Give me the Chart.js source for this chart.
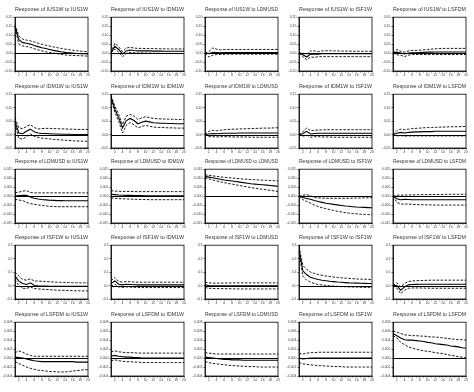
<!DOCTYPE html>
<html><head><meta charset="utf-8">
<script src="https://cdn.jsdelivr.net/npm/chart.js@4.4.1/dist/chart.umd.min.js"></script>
<style>
html,body{margin:0;padding:0;background:#fff;}
body{width:474px;height:392px;position:relative;overflow:hidden;}
canvas{position:absolute;}
</style></head><body>
<script>
const VARS = ['IUS1W','IDM1W','LDMUSD','ISF1W','LSFDM'];
const PERIODS = [1,2,3,4,5,6,7,8,9,10,11,12,13,14,15,16,17,18,19,20];

// y-axis ticks per responding variable
const TICKS_IUS1W = [-0.10,-0.05,0.00,0.05,0.10,0.15,0.20];
const TICKS_IDM1W = [-0.05,0.00,0.05,0.10,0.15];
const TICKS_LDMUSD = [-0.015,-0.010,-0.005,0.000,0.005,0.010,0.015];
const TICKS_ISF1W = [-0.1,0.0,0.1,0.2,0.3];
const TICKS_LSFDM = [-0.004,-0.002,0.000,0.002,0.004,0.006,0.008];

// Response of IUS1W
const M_IUS1W_IUS1W = [0.150,0.075,0.058,0.055,0.050,0.042,0.036,0.030,0.025,0.020,0.015,0.011,0.007,0.004,0.002,0.000,-0.002,-0.003,-0.004,-0.005];
const U_IUS1W_IUS1W = [0.160,0.095,0.078,0.072,0.068,0.062,0.055,0.049,0.044,0.039,0.034,0.030,0.026,0.022,0.019,0.016,0.013,0.011,0.009,0.007];
const L_IUS1W_IUS1W = [0.140,0.050,0.040,0.036,0.032,0.024,0.018,0.012,0.007,0.003,0.000,-0.004,-0.007,-0.010,-0.012,-0.013,-0.014,-0.015,-0.016,-0.017];
const M_IUS1W_IDM1W = [0.000,0.038,0.020,-0.005,0.012,0.017,0.014,0.012,0.013,0.012,0.012,0.011,0.011,0.011,0.010,0.010,0.010,0.010,0.010,0.010];
const U_IUS1W_IDM1W = [0.000,0.055,0.035,0.008,0.028,0.032,0.028,0.026,0.026,0.025,0.025,0.025,0.024,0.024,0.024,0.023,0.023,0.023,0.023,0.023];
const L_IUS1W_IDM1W = [0.000,0.022,0.006,-0.020,-0.002,0.004,0.002,0.000,0.001,0.000,0.000,-0.001,-0.001,-0.002,-0.002,-0.002,-0.002,-0.003,-0.003,-0.003];
const M_IUS1W_LDMUSD = [0.000,-0.004,0.004,0.003,0.002,0.003,0.003,0.003,0.003,0.003,0.003,0.003,0.003,0.003,0.003,0.003,0.003,0.003,0.003,0.003];
const U_IUS1W_LDMUSD = [0.000,0.008,0.028,0.022,0.018,0.020,0.020,0.020,0.020,0.020,0.020,0.020,0.020,0.020,0.020,0.020,0.020,0.020,0.020,0.020];
const L_IUS1W_LDMUSD = [0.000,-0.022,-0.012,-0.008,-0.008,-0.007,-0.006,-0.006,-0.006,-0.006,-0.006,-0.006,-0.006,-0.006,-0.006,-0.006,-0.006,-0.006,-0.006,-0.006];
const M_IUS1W_ISF1W = [0.000,-0.010,-0.022,-0.005,-0.006,-0.006,-0.004,-0.004,-0.004,-0.004,-0.004,-0.004,-0.003,-0.003,-0.003,-0.003,-0.003,-0.003,-0.003,-0.003];
const U_IUS1W_ISF1W = [0.000,0.000,-0.008,0.012,0.012,0.008,0.012,0.013,0.013,0.012,0.012,0.011,0.011,0.011,0.010,0.010,0.010,0.010,0.010,0.010];
const L_IUS1W_ISF1W = [0.000,-0.020,-0.038,-0.022,-0.024,-0.020,-0.020,-0.020,-0.020,-0.020,-0.020,-0.020,-0.020,-0.020,-0.020,-0.020,-0.020,-0.020,-0.020,-0.020];
const M_IUS1W_LSFDM = [0.000,0.005,0.000,-0.005,0.000,0.002,0.002,0.003,0.004,0.005,0.005,0.006,0.006,0.006,0.006,0.006,0.006,0.006,0.006,0.006];
const U_IUS1W_LSFDM = [0.000,0.020,0.010,0.005,0.012,0.015,0.015,0.016,0.018,0.020,0.022,0.024,0.025,0.026,0.026,0.026,0.026,0.026,0.026,0.026];
const L_IUS1W_LSFDM = [0.000,-0.010,-0.012,-0.020,-0.012,-0.008,-0.008,-0.008,-0.008,-0.008,-0.008,-0.008,-0.008,-0.008,-0.008,-0.008,-0.008,-0.008,-0.008,-0.008];

// Response of IDM1W
const M_IDM1W_IUS1W = [0.050,0.006,0.003,0.012,0.020,0.010,0.006,0.004,0.004,0.003,0.002,0.002,0.001,0.001,0.001,0.000,0.000,0.000,0.000,0.000];
const U_IDM1W_IUS1W = [0.062,0.025,0.022,0.030,0.037,0.026,0.021,0.022,0.023,0.023,0.022,0.022,0.021,0.021,0.020,0.020,0.019,0.019,0.019,0.019];
const L_IDM1W_IUS1W = [0.040,-0.015,-0.016,-0.008,0.003,-0.007,-0.010,-0.013,-0.015,-0.016,-0.018,-0.019,-0.020,-0.021,-0.022,-0.023,-0.024,-0.024,-0.025,-0.025];
const M_IDM1W_IDM1W = [0.140,0.094,0.063,0.025,0.052,0.060,0.052,0.040,0.046,0.050,0.047,0.044,0.043,0.042,0.042,0.041,0.041,0.040,0.040,0.040];
const U_IDM1W_IDM1W = [0.145,0.106,0.075,0.037,0.069,0.075,0.069,0.056,0.062,0.066,0.063,0.060,0.059,0.058,0.058,0.057,0.057,0.056,0.056,0.056];
const L_IDM1W_IDM1W = [0.135,0.082,0.050,0.006,0.035,0.045,0.036,0.025,0.030,0.034,0.031,0.028,0.027,0.026,0.026,0.025,0.025,0.024,0.024,0.024];
const M_IDM1W_LDMUSD = [0.000,0.002,0.004,0.003,0.004,0.005,0.005,0.005,0.005,0.006,0.006,0.006,0.006,0.006,0.006,0.006,0.006,0.006,0.006,0.006];
const U_IDM1W_LDMUSD = [0.000,0.012,0.015,0.014,0.016,0.018,0.019,0.020,0.020,0.021,0.021,0.022,0.022,0.023,0.023,0.024,0.024,0.024,0.025,0.025];
const L_IDM1W_LDMUSD = [0.000,-0.008,-0.008,-0.009,-0.008,-0.008,-0.008,-0.009,-0.009,-0.009,-0.009,-0.009,-0.010,-0.010,-0.010,-0.010,-0.010,-0.010,-0.010,-0.010];
const M_IDM1W_ISF1W = [0.000,0.003,0.012,0.002,0.004,0.005,0.005,0.005,0.005,0.005,0.005,0.005,0.005,0.005,0.005,0.005,0.005,0.005,0.005,0.005];
const U_IDM1W_ISF1W = [0.000,0.010,0.025,0.014,0.016,0.017,0.017,0.018,0.018,0.018,0.018,0.018,0.018,0.018,0.018,0.018,0.018,0.018,0.018,0.018];
const L_IDM1W_ISF1W = [0.000,-0.006,-0.002,-0.010,-0.008,-0.008,-0.009,-0.009,-0.009,-0.010,-0.010,-0.010,-0.010,-0.010,-0.010,-0.010,-0.010,-0.010,-0.010,-0.010];
const M_IDM1W_LSFDM = [0.000,0.005,0.008,0.006,0.008,0.009,0.010,0.010,0.011,0.011,0.011,0.012,0.012,0.012,0.012,0.012,0.012,0.012,0.012,0.012];
const U_IDM1W_LSFDM = [0.000,0.015,0.020,0.018,0.020,0.022,0.023,0.024,0.025,0.026,0.026,0.027,0.027,0.028,0.028,0.029,0.029,0.029,0.030,0.030];
const L_IDM1W_LSFDM = [0.000,-0.005,-0.004,-0.006,-0.005,-0.005,-0.005,-0.005,-0.005,-0.005,-0.005,-0.005,-0.005,-0.005,-0.005,-0.005,-0.005,-0.005,-0.005,-0.005];

// Response of LDMUSD
const M_LDMUSD_IUS1W = [0.0000,0.0003,0.0005,0.0004,-0.0005,-0.0012,-0.0016,-0.0019,-0.0021,-0.0023,-0.0024,-0.0025,-0.0025,-0.0026,-0.0026,-0.0026,-0.0026,-0.0026,-0.0026,-0.0026];
const U_LDMUSD_IUS1W = [0.0018,0.0022,0.0028,0.0030,0.0020,0.0018,0.0018,0.0018,0.0018,0.0018,0.0018,0.0018,0.0018,0.0018,0.0018,0.0018,0.0018,0.0018,0.0018,0.0018];
const L_LDMUSD_IUS1W = [-0.0018,-0.0022,-0.0025,-0.0035,-0.0042,-0.0046,-0.0049,-0.0052,-0.0055,-0.0057,-0.0058,-0.0059,-0.0059,-0.0059,-0.0059,-0.0059,-0.0059,-0.0059,-0.0059,-0.0059];
const M_LDMUSD_IDM1W = [0.0010,0.0008,0.0006,0.0005,0.0004,0.0004,0.0003,0.0003,0.0003,0.0002,0.0002,0.0002,0.0002,0.0002,0.0002,0.0002,0.0002,0.0002,0.0002,0.0002];
const U_LDMUSD_IDM1W = [0.0030,0.0028,0.0027,0.0026,0.0026,0.0026,0.0025,0.0025,0.0025,0.0025,0.0025,0.0025,0.0025,0.0025,0.0025,0.0025,0.0025,0.0025,0.0025,0.0025];
const L_LDMUSD_IDM1W = [-0.0010,-0.0012,-0.0014,-0.0015,-0.0016,-0.0017,-0.0018,-0.0018,-0.0019,-0.0019,-0.0020,-0.0020,-0.0020,-0.0020,-0.0020,-0.0020,-0.0020,-0.0020,-0.0020,-0.0020];
const M_LDMUSD_LDMUSD = [0.0110,0.0106,0.0102,0.0098,0.0094,0.0090,0.0087,0.0084,0.0081,0.0078,0.0075,0.0072,0.0069,0.0067,0.0065,0.0063,0.0061,0.0059,0.0057,0.0055];
const U_LDMUSD_LDMUSD = [0.0118,0.0116,0.0113,0.0110,0.0107,0.0105,0.0103,0.0101,0.0099,0.0097,0.0095,0.0094,0.0092,0.0091,0.0090,0.0089,0.0088,0.0087,0.0086,0.0085];
const L_LDMUSD_LDMUSD = [0.0102,0.0096,0.0090,0.0085,0.0080,0.0075,0.0071,0.0067,0.0063,0.0059,0.0055,0.0051,0.0047,0.0044,0.0041,0.0038,0.0035,0.0032,0.0029,0.0026];
const M_LDMUSD_ISF1W = [0.0000,-0.0008,-0.0013,-0.0018,-0.0025,-0.0030,-0.0035,-0.0040,-0.0043,-0.0046,-0.0049,-0.0052,-0.0055,-0.0057,-0.0059,-0.0061,-0.0062,-0.0063,-0.0064,-0.0065];
const U_LDMUSD_ISF1W = [0.0000,0.0005,0.0008,0.0002,-0.0008,-0.0010,-0.0011,-0.0012,-0.0012,-0.0012,-0.0012,-0.0012,-0.0012,-0.0012,-0.0011,-0.0011,-0.0010,-0.0010,-0.0009,-0.0009];
const L_LDMUSD_ISF1W = [0.0000,-0.0020,-0.0030,-0.0040,-0.0050,-0.0058,-0.0065,-0.0070,-0.0075,-0.0080,-0.0085,-0.0088,-0.0092,-0.0095,-0.0097,-0.0099,-0.0101,-0.0102,-0.0103,-0.0104];
const M_LDMUSD_LSFDM = [0.0000,-0.0015,-0.0020,-0.0018,-0.0019,-0.0020,-0.0020,-0.0020,-0.0020,-0.0020,-0.0020,-0.0020,-0.0020,-0.0020,-0.0020,-0.0020,-0.0020,-0.0020,-0.0020,-0.0020];
const U_LDMUSD_LSFDM = [0.0000,0.0005,0.0005,0.0006,0.0006,0.0007,0.0007,0.0008,0.0008,0.0008,0.0009,0.0009,0.0009,0.0009,0.0010,0.0010,0.0010,0.0010,0.0010,0.0010];
const L_LDMUSD_LSFDM = [0.0000,-0.0035,-0.0045,-0.0044,-0.0045,-0.0046,-0.0047,-0.0048,-0.0048,-0.0049,-0.0049,-0.0050,-0.0050,-0.0050,-0.0050,-0.0050,-0.0050,-0.0050,-0.0050,-0.0050];

// Response of ISF1W
const M_ISF1W_IUS1W = [0.070,0.033,0.015,0.008,0.020,0.000,-0.002,-0.003,-0.004,-0.005,-0.005,-0.005,-0.005,-0.005,-0.005,-0.005,-0.005,-0.005,-0.005,-0.005];
const U_ISF1W_IUS1W = [0.100,0.070,0.045,0.040,0.050,0.035,0.033,0.032,0.030,0.028,0.026,0.025,0.024,0.023,0.022,0.021,0.021,0.020,0.020,0.020];
const L_ISF1W_IUS1W = [0.045,0.000,-0.020,-0.022,-0.010,-0.022,-0.025,-0.027,-0.029,-0.031,-0.033,-0.034,-0.035,-0.036,-0.037,-0.038,-0.039,-0.039,-0.040,-0.040];
const M_ISF1W_IDM1W = [0.015,0.035,0.010,0.005,0.010,0.008,0.006,0.005,0.005,0.005,0.005,0.005,0.005,0.005,0.005,0.005,0.005,0.005,0.005,0.005];
const U_ISF1W_IDM1W = [0.035,0.060,0.030,0.025,0.030,0.028,0.026,0.025,0.025,0.025,0.025,0.025,0.025,0.025,0.025,0.025,0.025,0.025,0.025,0.025];
const L_ISF1W_IDM1W = [-0.005,0.010,-0.010,-0.015,-0.010,-0.012,-0.013,-0.014,-0.015,-0.015,-0.015,-0.015,-0.015,-0.015,-0.015,-0.015,-0.015,-0.015,-0.015,-0.015];
const M_ISF1W_LDMUSD = [0.005,0.000,-0.002,-0.002,-0.002,-0.002,-0.002,-0.002,-0.002,-0.002,-0.002,-0.002,-0.002,-0.002,-0.002,-0.002,-0.002,-0.002,-0.002,-0.002];
const U_ISF1W_LDMUSD = [0.025,0.020,0.018,0.018,0.018,0.019,0.019,0.019,0.020,0.020,0.020,0.020,0.020,0.020,0.020,0.020,0.020,0.020,0.020,0.020];
const L_ISF1W_LDMUSD = [-0.015,-0.020,-0.022,-0.022,-0.023,-0.023,-0.024,-0.024,-0.025,-0.025,-0.025,-0.025,-0.025,-0.025,-0.025,-0.025,-0.025,-0.025,-0.025,-0.025];
const M_ISF1W_ISF1W = [0.270,0.110,0.080,0.062,0.052,0.045,0.040,0.036,0.032,0.029,0.026,0.024,0.022,0.020,0.019,0.018,0.017,0.016,0.015,0.015];
const U_ISF1W_ISF1W = [0.290,0.150,0.120,0.100,0.090,0.082,0.076,0.071,0.067,0.063,0.060,0.057,0.055,0.053,0.051,0.049,0.048,0.047,0.046,0.045];
const L_ISF1W_ISF1W = [0.250,0.070,0.040,0.025,0.015,0.008,0.004,0.001,-0.002,-0.004,-0.006,-0.008,-0.009,-0.010,-0.011,-0.012,-0.013,-0.014,-0.015,-0.015];
const M_ISF1W_LSFDM = [0.000,0.000,-0.035,-0.010,0.005,0.008,0.009,0.010,0.010,0.010,0.010,0.010,0.010,0.010,0.010,0.010,0.010,0.010,0.010,0.010];
const U_ISF1W_LSFDM = [0.000,0.020,-0.010,0.015,0.030,0.034,0.036,0.037,0.038,0.039,0.040,0.040,0.040,0.040,0.040,0.040,0.040,0.040,0.040,0.040];
const L_ISF1W_LSFDM = [0.000,-0.020,-0.060,-0.035,-0.020,-0.018,-0.018,-0.018,-0.019,-0.019,-0.020,-0.020,-0.020,-0.020,-0.020,-0.020,-0.020,-0.020,-0.020,-0.020];

// Response of LSFDM
const M_LSFDM_IUS1W = [0.0002,0.0001,0.0000,-0.0002,-0.0004,-0.0006,-0.0007,-0.0008,-0.0008,-0.0008,-0.0008,-0.0008,-0.0008,-0.0008,-0.0008,-0.0008,-0.0009,-0.0009,-0.0009,-0.0009];
const U_LSFDM_IUS1W = [0.0012,0.0016,0.0013,0.0009,0.0006,0.0004,0.0004,0.0004,0.0004,0.0004,0.0004,0.0004,0.0004,0.0004,0.0004,0.0004,0.0004,0.0004,0.0004,0.0004];
const L_LSFDM_IUS1W = [-0.0008,-0.0012,-0.0016,-0.0020,-0.0023,-0.0025,-0.0027,-0.0028,-0.0029,-0.0030,-0.0030,-0.0031,-0.0031,-0.0031,-0.0030,-0.0029,-0.0028,-0.0027,-0.0026,-0.0026];
const M_LSFDM_IDM1W = [0.0004,0.0006,0.0004,0.0003,0.0002,0.0002,0.0001,0.0001,0.0000,0.0000,0.0000,0.0000,0.0000,0.0000,0.0000,0.0000,0.0000,0.0000,0.0000,0.0000];
const U_LSFDM_IDM1W = [0.0014,0.0016,0.0014,0.0013,0.0012,0.0012,0.0012,0.0011,0.0011,0.0011,0.0011,0.0011,0.0011,0.0011,0.0011,0.0011,0.0011,0.0011,0.0011,0.0011];
const L_LSFDM_IDM1W = [-0.0006,-0.0004,-0.0006,-0.0007,-0.0008,-0.0008,-0.0009,-0.0009,-0.0010,-0.0010,-0.0010,-0.0010,-0.0010,-0.0010,-0.0010,-0.0010,-0.0010,-0.0010,-0.0010,-0.0010];
const M_LSFDM_LDMUSD = [0.0002,0.0001,0.0000,-0.0001,-0.0002,-0.0003,-0.0003,-0.0004,-0.0004,-0.0004,-0.0005,-0.0005,-0.0005,-0.0005,-0.0005,-0.0005,-0.0005,-0.0005,-0.0005,-0.0005];
const U_LSFDM_LDMUSD = [0.0012,0.0011,0.0010,0.0009,0.0009,0.0009,0.0009,0.0009,0.0009,0.0009,0.0009,0.0009,0.0009,0.0009,0.0009,0.0009,0.0009,0.0009,0.0009,0.0009];
const L_LSFDM_LDMUSD = [-0.0008,-0.0010,-0.0012,-0.0013,-0.0014,-0.0015,-0.0016,-0.0017,-0.0017,-0.0018,-0.0018,-0.0019,-0.0019,-0.0019,-0.0020,-0.0020,-0.0020,-0.0020,-0.0020,-0.0020];
const M_LSFDM_ISF1W = [0.0000,-0.0002,-0.0001,0.0000,0.0000,0.0000,0.0000,0.0000,0.0000,0.0000,0.0000,0.0000,0.0000,0.0000,0.0000,0.0000,0.0000,0.0000,0.0000,0.0000];
const U_LSFDM_ISF1W = [0.0010,0.0009,0.0011,0.0012,0.0012,0.0013,0.0013,0.0013,0.0013,0.0013,0.0013,0.0013,0.0013,0.0013,0.0013,0.0013,0.0013,0.0013,0.0013,0.0013];
const L_LSFDM_ISF1W = [-0.0010,-0.0013,-0.0014,-0.0015,-0.0016,-0.0017,-0.0017,-0.0018,-0.0018,-0.0019,-0.0019,-0.0019,-0.0020,-0.0020,-0.0020,-0.0020,-0.0020,-0.0020,-0.0020,-0.0020];
const M_LSFDM_LSFDM = [0.0055,0.0050,0.0045,0.0041,0.0040,0.0040,0.0039,0.0038,0.0037,0.0035,0.0034,0.0032,0.0031,0.0030,0.0029,0.0027,0.0026,0.0025,0.0023,0.0022];
const U_LSFDM_LSFDM = [0.0060,0.0058,0.0055,0.0052,0.0051,0.0050,0.0050,0.0049,0.0049,0.0048,0.0047,0.0047,0.0046,0.0045,0.0044,0.0043,0.0042,0.0041,0.0041,0.0040];
const L_LSFDM_LSFDM = [0.0050,0.0045,0.0035,0.0030,0.0025,0.0022,0.0020,0.0018,0.0016,0.0015,0.0014,0.0012,0.0011,0.0010,0.0008,0.0006,0.0005,0.0003,0.0002,0.0000];

// ---- tables built from the arrays above ----
const TICKS = {IUS1W:TICKS_IUS1W, IDM1W:TICKS_IDM1W, LDMUSD:TICKS_LDMUSD, ISF1W:TICKS_ISF1W, LSFDM:TICKS_LSFDM};
const DEC = {IUS1W:2, IDM1W:2, LDMUSD:3, ISF1W:1, LSFDM:3};
const SERIES = {
 IUS1W_IUS1W:[M_IUS1W_IUS1W,U_IUS1W_IUS1W,L_IUS1W_IUS1W], IUS1W_IDM1W:[M_IUS1W_IDM1W,U_IUS1W_IDM1W,L_IUS1W_IDM1W],
 IUS1W_LDMUSD:[M_IUS1W_LDMUSD,U_IUS1W_LDMUSD,L_IUS1W_LDMUSD], IUS1W_ISF1W:[M_IUS1W_ISF1W,U_IUS1W_ISF1W,L_IUS1W_ISF1W],
 IUS1W_LSFDM:[M_IUS1W_LSFDM,U_IUS1W_LSFDM,L_IUS1W_LSFDM],
 IDM1W_IUS1W:[M_IDM1W_IUS1W,U_IDM1W_IUS1W,L_IDM1W_IUS1W], IDM1W_IDM1W:[M_IDM1W_IDM1W,U_IDM1W_IDM1W,L_IDM1W_IDM1W],
 IDM1W_LDMUSD:[M_IDM1W_LDMUSD,U_IDM1W_LDMUSD,L_IDM1W_LDMUSD], IDM1W_ISF1W:[M_IDM1W_ISF1W,U_IDM1W_ISF1W,L_IDM1W_ISF1W],
 IDM1W_LSFDM:[M_IDM1W_LSFDM,U_IDM1W_LSFDM,L_IDM1W_LSFDM],
 LDMUSD_IUS1W:[M_LDMUSD_IUS1W,U_LDMUSD_IUS1W,L_LDMUSD_IUS1W], LDMUSD_IDM1W:[M_LDMUSD_IDM1W,U_LDMUSD_IDM1W,L_LDMUSD_IDM1W],
 LDMUSD_LDMUSD:[M_LDMUSD_LDMUSD,U_LDMUSD_LDMUSD,L_LDMUSD_LDMUSD], LDMUSD_ISF1W:[M_LDMUSD_ISF1W,U_LDMUSD_ISF1W,L_LDMUSD_ISF1W],
 LDMUSD_LSFDM:[M_LDMUSD_LSFDM,U_LDMUSD_LSFDM,L_LDMUSD_LSFDM],
 ISF1W_IUS1W:[M_ISF1W_IUS1W,U_ISF1W_IUS1W,L_ISF1W_IUS1W], ISF1W_IDM1W:[M_ISF1W_IDM1W,U_ISF1W_IDM1W,L_ISF1W_IDM1W],
 ISF1W_LDMUSD:[M_ISF1W_LDMUSD,U_ISF1W_LDMUSD,L_ISF1W_LDMUSD], ISF1W_ISF1W:[M_ISF1W_ISF1W,U_ISF1W_ISF1W,L_ISF1W_ISF1W],
 ISF1W_LSFDM:[M_ISF1W_LSFDM,U_ISF1W_LSFDM,L_ISF1W_LSFDM],
 LSFDM_IUS1W:[M_LSFDM_IUS1W,U_LSFDM_IUS1W,L_LSFDM_IUS1W], LSFDM_IDM1W:[M_LSFDM_IDM1W,U_LSFDM_IDM1W,L_LSFDM_IDM1W],
 LSFDM_LDMUSD:[M_LSFDM_LDMUSD,U_LSFDM_LDMUSD,L_LSFDM_LDMUSD], LSFDM_ISF1W:[M_LSFDM_ISF1W,U_LSFDM_ISF1W,L_LSFDM_ISF1W],
 LSFDM_LSFDM:[M_LSFDM_LSFDM,U_LSFDM_LSFDM,L_LSFDM_LSFDM]
};

const FONT = "'Liberation Sans', Arial, sans-serif";
const PLOT_LEFT = [15,111,205,299,393];
const PLOT_TOP = [16.5,94,169,245,322];
const PLOT_W = 73, PLOT_H = 54;
const YAXIS_W = 15, TITLE_H = 14, XAXIS_H = 7, RPAD = 3;

const boxPlugin = {
  id:'box',
  beforeDatasetsDraw(chart){
    const {ctx, chartArea:a, scales:{y}} = chart;
    ctx.save();
    ctx.strokeStyle = '#000'; ctx.lineWidth = 1;
    const zy = Math.round(y.getPixelForValue(0)) + 0.5;
    ctx.beginPath(); ctx.moveTo(a.left, zy); ctx.lineTo(a.right, zy); ctx.stroke();
    ctx.restore();
  },
  afterDraw(chart){
    const {ctx, chartArea:a} = chart;
    ctx.save();
    ctx.strokeStyle = '#000'; ctx.lineWidth = 0.8;
    ctx.strokeRect(a.left, a.top, a.right - a.left, a.bottom - a.top);
    ctx.restore();
  }
};

for (let r = 0; r < 5; r++) {
  for (let c = 0; c < 5; c++) {
    const resp = VARS[r], imp = VARS[c];
    const [mid, up, lo] = SERIES[resp + '_' + imp];
    const cv = document.createElement('canvas');
    const W = YAXIS_W + PLOT_W + RPAD, H = TITLE_H + PLOT_H + XAXIS_H;
    cv.width = W; cv.height = H;
    cv.style.left = (PLOT_LEFT[c] - YAXIS_W) + 'px';
    cv.style.top = (PLOT_TOP[r] - TITLE_H) + 'px';
    document.body.appendChild(cv);
    const ticks = TICKS[resp];
    const dec = DEC[resp];
    new Chart(cv, {
      type: 'line',
      data: {
        labels: PERIODS,
        datasets: [
          {label:'Response', data: mid, borderColor:'#000', borderWidth:1.1, pointRadius:0, tension:0},
          {label:'+2 S.E.', data: up, borderColor:'#000', borderWidth:0.9, borderDash:[2.5,1.5], pointRadius:0, tension:0},
          {label:'-2 S.E.', data: lo, borderColor:'#000', borderWidth:0.9, borderDash:[2.5,1.5], pointRadius:0, tension:0}
        ]
      },
      options: {
        responsive:false, animation:false, devicePixelRatio:1,
        layout:{padding:{left:0,right:RPAD,top:0,bottom:0}},
        plugins:{
          legend:{display:false}, tooltip:{enabled:false},
          title:{display:true, fullSize:false, text:'Response of ' + resp + ' to ' + imp,
                 color:'#333', font:{family:FONT, size:6, weight:'normal'}, padding:{top:3, bottom:4}}
        },
        scales:{
          x:{
            type:'category', offset:false,
            grid:{display:true, drawOnChartArea:false, drawTicks:true, tickLength:1.5, color:'#000', lineWidth:0.6},
            border:{display:true, color:'#000', width:0.8},
            ticks:{autoSkip:false, maxRotation:0, padding:0.5, color:'#444', font:{family:FONT, size:3.5},
                   callback:(v,i)=> (PERIODS[i] % 2 === 0 ? String(PERIODS[i]) : '')},
            afterFit(s){ s.height = XAXIS_H; }
          },
          y:{
            min: ticks[0], max: ticks[ticks.length-1],
            afterBuildTicks(s){ s.ticks = ticks.map(v => ({value:v})); },
            grid:{display:true, drawOnChartArea:false, drawTicks:true, tickLength:1.5, color:'#000', lineWidth:0.6},
            border:{display:true, color:'#000', width:0.8},
            ticks:{padding:1, color:'#444', font:{family:FONT, size:3.5},
                   callback:(v)=> Number(v).toFixed(dec)},
            afterFit(s){ s.width = YAXIS_W; }
          }
        }
      },
      plugins:[boxPlugin]
    });
  }
}
</script>
</body></html>
